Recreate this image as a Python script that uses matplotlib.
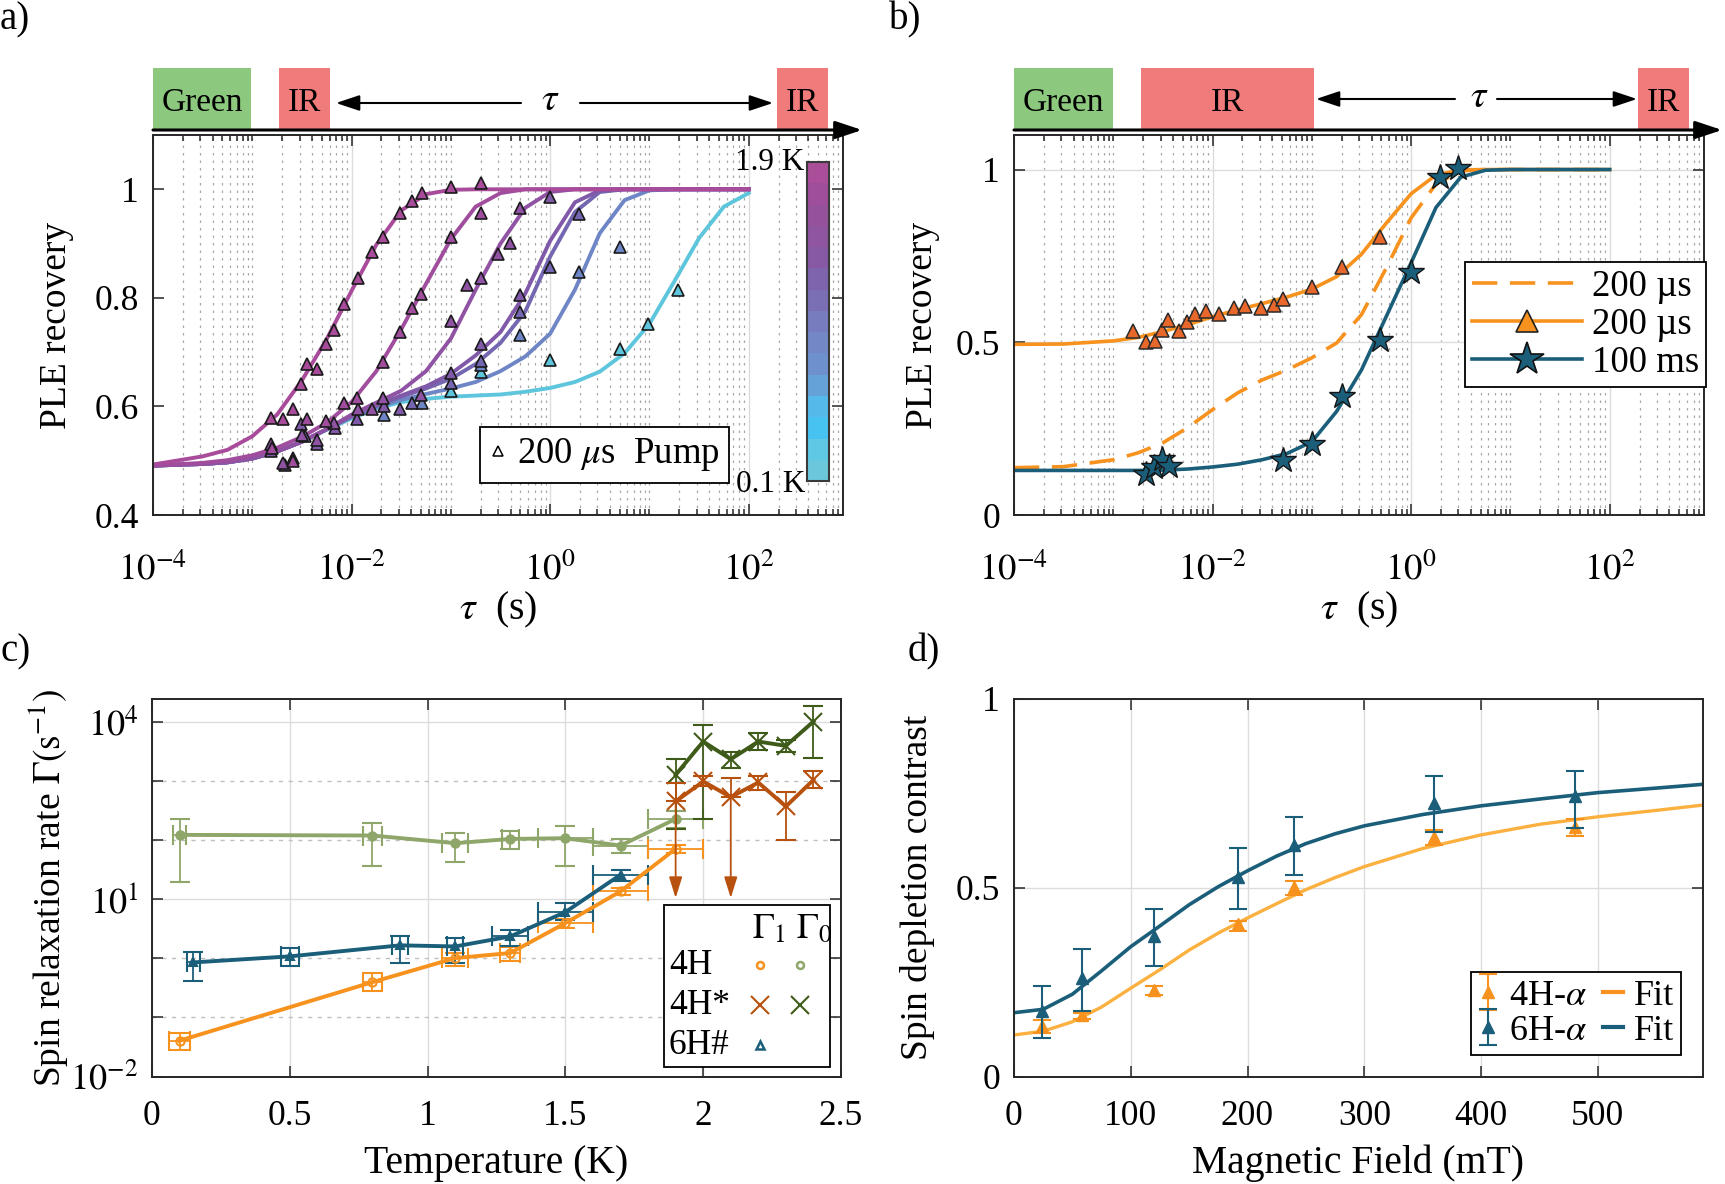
import numpy as np
import matplotlib
matplotlib.use('Agg')
import matplotlib.pyplot as plt
from matplotlib import font_manager as fm
from matplotlib.patches import Rectangle
from matplotlib.lines import Line2D
from matplotlib.colors import ListedColormap
from matplotlib.ticker import LogLocator, NullFormatter, FixedLocator

_avail = {f.name for f in fm.fontManager.ttflist}
SERIF = next((n for n in ['Liberation Serif', 'Times New Roman', 'Nimbus Roman', 'TeX Gyre Termes',
                          'DejaVu Serif'] if n in _avail), 'DejaVu Serif')
plt.rcParams['font.family'] = 'serif'
plt.rcParams['font.serif'] = [SERIF, 'DejaVu Serif']
plt.rcParams['mathtext.fontset'] = 'stix'

# ======================= DATA: panel a =======================
a_fit_logtau = [-4.0, -3.5, -3.25, -3.0, -2.75, -2.5, -2.25, -2.0, -1.75, -1.5, -1.25, -1.0,
                -0.75, -0.5, -0.25, 0.0, 0.25, 0.5, 0.75, 1.0, 1.25, 1.5, 1.75, 2.0]
a_fit_c1 = [0.493, 0.508, 0.520, 0.545, 0.585, 0.648, 0.724, 0.813, 0.898, 0.961, 0.991, 0.999,
            1.0, 1.0, 1.0, 1.0, 1.0, 1.0, 1.0, 1.0, 1.0, 1.0, 1.0, 1.0]
a_fit_c2 = [0.491, 0.496, 0.501, 0.510, 0.524, 0.544, 0.570, 0.608, 0.665, 0.742, 0.826, 0.908,
            0.968, 0.993, 1.0, 1.0, 1.0, 1.0, 1.0, 1.0, 1.0, 1.0, 1.0, 1.0]
a_fit_c3 = [0.491, 0.494, 0.497, 0.504, 0.517, 0.535, 0.558, 0.585, 0.607, 0.629, 0.665, 0.725,
            0.815, 0.900, 0.966, 0.995, 1.0, 1.0, 1.0, 1.0, 1.0, 1.0, 1.0, 1.0]
a_fit_c4 = [0.491, 0.494, 0.497, 0.504, 0.517, 0.535, 0.558, 0.583, 0.603, 0.620, 0.637, 0.660,
            0.694, 0.737, 0.808, 0.905, 0.976, 0.998, 1.0, 1.0, 1.0, 1.0, 1.0, 1.0]
a_fit_c5 = [0.491, 0.494, 0.497, 0.504, 0.517, 0.535, 0.558, 0.582, 0.601, 0.618, 0.633, 0.651,
            0.678, 0.717, 0.775, 0.876, 0.958, 0.995, 1.0, 1.0, 1.0, 1.0, 1.0, 1.0]
a_fit_c6 = [0.491, 0.494, 0.497, 0.504, 0.517, 0.535, 0.558, 0.580, 0.598, 0.612, 0.623, 0.633,
            0.645, 0.665, 0.692, 0.734, 0.815, 0.919, 0.980, 0.998, 1.0, 1.0, 1.0, 1.0]
a_fit_c7 = [0.491, 0.494, 0.497, 0.504, 0.517, 0.535, 0.557, 0.578, 0.596, 0.608, 0.614, 0.618,
            0.620, 0.622, 0.627, 0.634, 0.645, 0.664, 0.698, 0.752, 0.830, 0.910, 0.968, 0.993]

a_pts_c1_logtau = [-2.81, -2.69, -2.59, -2.51, -2.45, -2.35, -2.26, -2.18, -2.08, -1.94, -1.79,
                   -1.68, -1.51, -1.39, -1.29, -1.0, -0.70]
a_pts_c1_y = [0.579, 0.576, 0.595, 0.641, 0.678, 0.669, 0.715, 0.741, 0.788, 0.836, 0.885,
              0.912, 0.956, 0.978, 0.993, 1.004, 1.011]
a_pts_c2_logtau = [-2.80, -2.59, -2.45, -2.26, -2.08, -1.95, -1.68, -1.51, -1.39, -1.30, -1.0, -0.70]
a_pts_c2_y = [0.524, 0.500, 0.576, 0.573, 0.607, 0.616, 0.682, 0.738, 0.781, 0.807, 0.912, 0.956]
a_pts_c3_logtau = [-2.81, -2.69, -2.50, -2.35, -2.18, -1.94, -1.79, -1.68, -1.30, -1.0, -0.84,
                   -0.70, -0.53, -0.40, -0.30]
a_pts_c3_y = [0.530, 0.496, 0.548, 0.539, 0.570, 0.595, 0.595, 0.616, 0.621, 0.757, 0.823,
              0.836, 0.881, 0.901, 0.965]
a_pts_c4_logtau = [-2.81, -2.67, -2.51, -2.345, -2.17, -1.95, -1.67, -1.51, -1.0, -0.70, -0.30, 0.0]
a_pts_c4_y = [0.518, 0.492, 0.567, 0.530, 0.561, 0.576, 0.601, 0.595, 0.661, 0.715, 0.805, 0.985]
a_pts_c5_logtau = [-2.59, -2.47, -1.39, -1.0, -0.70, -0.30, 0.0, 0.29]
a_pts_c5_y = [0.505, 0.545, 0.607, 0.644, 0.684, 0.774, 0.857, 0.954]
a_pts_c6_logtau = [-1.67, -1.295, -0.70, -0.30, 0.29, 0.70]
a_pts_c6_y = [0.585, 0.607, 0.676, 0.731, 0.848, 0.894]
a_pts_c7_logtau = [-1.0, -0.70, 0.0, 0.70, 0.99, 1.29]
a_pts_c7_y = [0.629, 0.663, 0.686, 0.706, 0.751, 0.814]

a_colors = ['#A94B9B', '#A04D9E', '#9052A3', '#8159A9', '#7566B1', '#6E86C5', '#5EC6DC']
a_cbar_colors = ['#6BC8DC', '#5FC8E4', '#46C3F0', '#55BAEA', '#64A2D8', '#6E91CD', '#7387C6',
                 '#767CBE', '#7A6FB4', '#7D64AC', '#8759A5', '#8F55A0', '#96519C', '#9E4E9B', '#AA4E9A']
a_cbar_labels = ['1.9 K', '0.1 K']

# ======================= DATA: panel b =======================
b_fit_logtau = [-4.0, -3.5, -3.0, -2.75, -2.5, -2.25, -2.0, -1.75, -1.5, -1.25, -1.0, -0.75,
                -0.5, -0.25, 0.0, 0.25, 0.5, 0.75, 1.0, 1.5, 2.0]
b_fit_dashed = [0.137, 0.140, 0.160, 0.180, 0.209, 0.253, 0.305, 0.353, 0.391, 0.420, 0.455, 0.498,
                0.580, 0.715, 0.860, 0.958, 0.996, 1.0, 1.0, 1.0, 1.0]
b_fit_orange = [0.494, 0.495, 0.504, 0.514, 0.531, 0.551, 0.574, 0.594, 0.612, 0.631, 0.654, 0.690,
                0.755, 0.845, 0.930, 0.984, 0.999, 1.0, 1.0, 1.0, 1.0]
b_fit_teal = [0.129, 0.129, 0.129, 0.129, 0.130, 0.133, 0.139, 0.147, 0.160, 0.178, 0.212, 0.300,
              0.420, 0.575, 0.730, 0.890, 0.978, 0.998, 1.0, 1.0, 1.0]
b_tri_logtau = [-2.80, -2.67, -2.58, -2.51, -2.45, -2.34, -2.26, -2.18, -2.07, -1.94, -1.78, -1.67,
                -1.51, -1.38, -1.29, -1.0, -0.70, -0.31]
b_tri_y = [0.532, 0.501, 0.505, 0.536, 0.564, 0.532, 0.559, 0.583, 0.590, 0.583, 0.598, 0.604,
           0.598, 0.607, 0.624, 0.661, 0.719, 0.806]
b_star_logtau = [-2.67, -2.59, -2.51, -2.44, -1.29, -1.0, -0.70, -0.31, 0.0, 0.29, 0.47]
b_star_y = [0.119, 0.139, 0.161, 0.142, 0.158, 0.205, 0.345, 0.507, 0.704, 0.978, 1.005]
b_labels = ['200 µs', '200 µs', '100 ms']

# ======================= DATA: panel c =======================
c_T_4h = [0.1, 0.8, 1.1, 1.3, 1.5, 1.7, 1.9]
c_g1_4h = [0.0404, 0.396, 1.01, 1.23, 3.95, 13.6, 71.6]
c_g1_4h_lo = [0.0284, 0.276, 0.731, 0.891, 3.25, 12.0, 60.3]
c_g1_4h_hi = [0.0545, 0.564, 1.23, 1.58, 4.62, 15.5, 83.2]
c_g1_4h_xerr = [0.037, 0.034, 0.048, 0.036, 0.1, 0.1, 0.1]
c_g0_4h = [123, 120, 89, 105, 108, 81, 229]
c_g0_4h_lo = [19.5, 37.2, 42.7, 71.6, 37.2, 60.3, 158]
c_g0_4h_hi = [228, 195, 132, 141, 174, 105, 316]
c_g0_4h_xerr = [0.023, 0.034, 0.048, 0.03, 0.1, 0.1, 0.1]

c_T_6h = [0.15, 0.5, 0.9, 1.1, 1.3, 1.5, 1.7]
c_g1_6h = [0.853, 1.08, 1.66, 1.59, 2.35, 6.07, 26.0]
c_g1_6h_lo = [0.407, 0.731, 0.832, 0.832, 1.59, 4.50, 20.0]
c_g1_6h_hi = [1.28, 1.48, 2.42, 2.20, 3.05, 8.61, 31.6]
c_g1_6h_xerr = [0.024, 0.033, 0.03, 0.03, 0.066, 0.1, 0.1]

c_T_4hs = [1.9, 2.0, 2.1, 2.2, 2.3, 2.4]
c_g1_4hs = [453, 986, 537, 948, 372, 1047]
c_g1_4hs_lo = [10.5, 813, 10.5, 708, 99, 776]
c_g1_4hs_hi = [925, 1202, 1122, 1202, 646, 1479]
c_g1_4hs_upper_limit = [True, False, True, False, False, False]
c_g0_4hs = [1279, 4677, 2344, 4677, 3954, 10210]
c_g0_4hs_lo = [155, 229, 1698, 3388, 3162, 2455]
c_g0_4hs_hi = [2399, 8913, 3162, 6457, 5012, 18621]
c_legend_rows = ['4H', '4H*', '6H#']

# ======================= DATA: panel d =======================
d_B = [24, 58, 120, 192, 240, 360, 480]
d_4h = [0.134, 0.163, 0.229, 0.403, 0.503, 0.635, 0.662]
d_4h_lo = [0.114, 0.151, 0.216, 0.386, 0.482, 0.613, 0.638]
d_4h_hi = [0.150, 0.169, 0.241, 0.413, 0.519, 0.653, 0.681]
d_6h = [0.174, 0.260, 0.372, 0.529, 0.613, 0.725, 0.743]
d_6h_lo = [0.101, 0.174, 0.293, 0.445, 0.534, 0.647, 0.659]
d_6h_hi = [0.240, 0.339, 0.445, 0.604, 0.687, 0.796, 0.809]
d_fit_B = [0, 25, 50, 75, 100, 125, 150, 175, 200, 225, 250, 275, 300, 350, 400, 450, 500, 550, 590]
d_fit_4h = [0.110, 0.120, 0.145, 0.184, 0.234, 0.283, 0.335, 0.380, 0.420, 0.458, 0.495, 0.527,
            0.556, 0.604, 0.640, 0.668, 0.688, 0.705, 0.719]
d_fit_6h = [0.169, 0.178, 0.218, 0.280, 0.344, 0.399, 0.455, 0.503, 0.545, 0.584, 0.617, 0.643,
            0.664, 0.694, 0.717, 0.735, 0.752, 0.764, 0.774]

# ======================= STYLE =======================
ORANGE = '#F7921E'
ORANGE_LIGHT = '#FBB040'
ORANGE_DARK = '#B8500E'
ORANGE_TRI = '#E8672A'
TEAL = '#1B5E7A'
GREEN_L = '#8FA66A'
GREEN_D = '#3F5B1A'
SPINE = '#262626'
TICK = 25.5
XLAB = 28.5
YLAB = 27
LEG = 26.5

W, H = 1725, 1184
fig = plt.figure(figsize=(W / 100, H / 100), dpi=100)


def px_rect(l, t, r, b):
    return [l / W, 1 - b / H, (r - l) / W, (b - t) / H]


def style_axes(ax):
    for s in ax.spines.values():
        s.set_linewidth(1.4)
        s.set_color(SPINE)
    ax.tick_params(which='both', direction='in', top=True, right=True, color=SPINE,
                   labelcolor='black', labelsize=TICK, width=1.1)
    ax.tick_params(which='major', length=8)
    ax.tick_params(which='minor', length=4)
    ax.set_axisbelow(True)


def log_x(ax):
    ax.set_xscale('log')
    ax.set_xlim(1e-4, 10 ** 2.95)
    ax.set_xticks([1e-4, 1e-2, 1, 1e2])
    ax.set_xticklabels([r'$10^{-4}$', r'$10^{-2}$', r'$10^{0}$', r'$10^{2}$'])
    ax.xaxis.set_minor_locator(LogLocator(base=10, subs=np.arange(1, 10), numticks=60))
    ax.xaxis.set_minor_formatter(NullFormatter())
    ax.grid(True, which='major', axis='x', color='#DCDCDC', lw=1.0)
    ax.grid(True, which='minor', axis='x', color='#A8A8A8', lw=0.9, ls=(0, (2, 4)))
    ax.tick_params(axis='x', which='major', pad=27, labelsize=26.5)
    ax.tick_params(axis='y', pad=10)


# ======================= PANEL A =======================
axa = fig.add_axes(px_rect(153, 135, 843, 515))
style_axes(axa)
log_x(axa)
axa.set_ylim(0.4, 1.1)
axa.set_yticks([0.4, 0.6, 0.8, 1.0])
axa.set_yticklabels(['0.4', '0.6', '0.8', '1'])

a_curves = [a_fit_c1, a_fit_c2, a_fit_c3, a_fit_c4, a_fit_c5, a_fit_c6, a_fit_c7]
a_pts = [(a_pts_c1_logtau, a_pts_c1_y), (a_pts_c2_logtau, a_pts_c2_y), (a_pts_c3_logtau, a_pts_c3_y),
         (a_pts_c4_logtau, a_pts_c4_y), (a_pts_c5_logtau, a_pts_c5_y), (a_pts_c6_logtau, a_pts_c6_y),
         (a_pts_c7_logtau, a_pts_c7_y)]
tau_a = 10 ** np.array(a_fit_logtau)
for i in range(len(a_curves) - 1, -1, -1):
    axa.plot(tau_a, a_curves[i], color=a_colors[i], lw=2.8, solid_joinstyle='round', zorder=2 + 0.01 * (7 - i))
for i in range(len(a_pts) - 1, -1, -1):
    lt, yv = a_pts[i]
    axa.plot(10 ** np.array(lt), yv, ls='none', marker='^', ms=8.5, mfc=a_colors[i], mec='#1a1a1a',
             mew=1.2, zorder=3)

ha = Line2D([], [], ls='none', marker='^', ms=7, mfc='none', mec='black', mew=1.1)
lega = axa.legend([ha], [r'200 $\mu$s  Pump'], loc='center', bbox_to_anchor=(0.654, 0.158),
                  fontsize=LEG, frameon=True, fancybox=False, edgecolor='black', framealpha=1,
                  handlelength=0.5, handletextpad=0.25, borderpad=0.25)
lega.get_frame().set_linewidth(1.3)
axa.set_xlabel(r'$\tau$  (s)', fontsize=XLAB)
axa.xaxis.set_label_coords(0.5, -0.197)
axa.set_ylabel('PLE recovery', fontsize=YLAB)
axa.yaxis.set_label_coords(-0.1145, 0.5)

axcb = fig.add_axes(px_rect(807, 162, 829, 481))
axcb.imshow(np.arange(len(a_cbar_colors)).reshape(-1, 1), cmap=ListedColormap(a_cbar_colors),
            aspect='auto', origin='lower', interpolation='nearest')
axcb.set_xticks([])
axcb.set_yticks([])
for s in axcb.spines.values():
    s.set_linewidth(1.5)
    s.set_color('#3a3a3a')

# ======================= PANEL B =======================
axb = fig.add_axes(px_rect(1014, 135, 1704, 515))
style_axes(axb)
log_x(axb)
axb.set_ylim(0, 1.1)
axb.set_yticks([0, 0.5, 1.0])
axb.set_yticklabels(['0', '0.5', '1'])
axb.grid(True, which='major', axis='y', color='#DCDCDC', lw=1.0)
tau_b = 10 ** np.array(b_fit_logtau)
axb.plot(tau_b, b_fit_dashed, color=ORANGE, lw=2.6, ls=(0, (7, 3.5)), zorder=2)
axb.plot(tau_b, b_fit_orange, color=ORANGE, lw=2.6, zorder=2)
axb.plot(tau_b, b_fit_teal, color=TEAL, lw=2.6, zorder=2.1)
axb.plot(10 ** np.array(b_tri_logtau), b_tri_y, ls='none', marker='^', ms=9.5, mfc=ORANGE_TRI,
         mec='#2a2a2a', mew=1.1, zorder=3)
axb.plot(10 ** np.array(b_star_logtau), b_star_y, ls='none', marker='*', ms=19, mfc=TEAL,
         mec='#151515', mew=1.0, zorder=3)
hb1 = Line2D([], [], color=ORANGE, lw=2.6, ls=(0, (7, 3.5)))
hb2 = Line2D([], [], color=ORANGE, lw=2.6, marker='^', ms=16, mfc=ORANGE, mec='#222222', mew=1.2)
hb3 = Line2D([], [], color=TEAL, lw=2.6, marker='*', ms=25, mfc=TEAL, mec='#111111', mew=1.2)
legb = axb.legend([hb1, hb2, hb3], b_labels, loc='center', bbox_to_anchor=(0.828, 0.501),
                  fontsize=LEG, frameon=True, fancybox=False, edgecolor='black', framealpha=1,
                  handlelength=3.0, handletextpad=0.25, borderpad=0.2, labelspacing=0.1,
                  numpoints=1)
legb.get_frame().set_linewidth(1.3)
axb.set_xlabel(r'$\tau$  (s)', fontsize=XLAB)
axb.xaxis.set_label_coords(0.5, -0.197)
axb.set_ylabel('PLE recovery', fontsize=YLAB)
axb.yaxis.set_label_coords(-0.107, 0.5)

# ======================= PANEL C =======================
axc = fig.add_axes(px_rect(152, 699, 841, 1076.5))
style_axes(axc)
axc.set_yscale('log')
axc.set_xlim(0, 2.5)
axc.set_ylim(1e-2, 10 ** 4.39)
axc.set_xticks([0, 0.5, 1, 1.5, 2, 2.5])
axc.set_xticklabels(['0', '0.5', '1', '1.5', '2', '2.5'])
axc.set_yticks([1e-2, 1e1, 1e4])
axc.set_yticklabels([r'$10^{-2}$', r'$10^{1}$', r'$10^{4}$'])
axc.yaxis.set_minor_locator(FixedLocator([1e-1, 1, 1e2, 1e3]))
axc.yaxis.set_minor_formatter(NullFormatter())
axc.tick_params(which='minor', length=8)
axc.tick_params(axis='x', pad=17)
axc.tick_params(axis='y', pad=10, labelsize=26)
axc.grid(True, which='major', color='#DCDCDC', lw=1.0)
axc.grid(True, which='minor', axis='y', color='#C0C0C0', lw=1.0, ls=(0, (3, 4)))


def eb(ax, x, y, lo, hi, xe, color, marker, ms, mfc, lw=2.8, z=3, capsize=7):
    y = np.asarray(y, float)
    lo = np.asarray(lo, float)
    hi = np.asarray(hi, float)
    return ax.errorbar(x, y, yerr=[y - lo, hi - y], xerr=xe, color=color, marker=marker, ms=ms,
                       mfc=mfc, mec=color, mew=1.5, lw=lw, elinewidth=1.3, capsize=capsize,
                       capthick=1.3, zorder=z)


eb(axc, c_T_4h, c_g0_4h, c_g0_4h_lo, c_g0_4h_hi, c_g0_4h_xerr, GREEN_L, 'o', 6, GREEN_L, z=3)
eb(axc, c_T_6h, c_g1_6h, c_g1_6h_lo, c_g1_6h_hi, c_g1_6h_xerr, TEAL, '^', 6, TEAL, z=3.2)
eb(axc, c_T_4h, c_g1_4h, c_g1_4h_lo, c_g1_4h_hi, c_g1_4h_xerr, ORANGE, 'o', 6, 'none', z=3.1)
eb(axc, c_T_4hs, c_g0_4hs, c_g0_4hs_lo, c_g0_4hs_hi, None, GREEN_D, 'x', 13, GREEN_D, z=3.3)
g1s = np.asarray(c_g1_4hs, float)
g1s_lo_eb = np.where(c_g1_4hs_upper_limit, g1s, c_g1_4hs_lo)
eb(axc, c_T_4hs, c_g1_4hs, g1s_lo_eb, c_g1_4hs_hi, None, ORANGE_DARK, 'x', 13, ORANGE_DARK, z=3.4)
for T, g, lo, flag in zip(c_T_4hs, c_g1_4hs, c_g1_4hs_lo, c_g1_4hs_upper_limit):
    if flag:
        axc.annotate('', xy=(T, lo), xytext=(T, g),
                     arrowprops=dict(arrowstyle='-|>,head_length=0.8,head_width=0.25',
                                     color=ORANGE_DARK, lw=1.3, shrinkA=0, shrinkB=0,
                                     mutation_scale=16), zorder=3.4)
axc.set_xlabel('Temperature (K)', fontsize=XLAB)
axc.xaxis.set_label_coords(0.5, -0.181)
axc.set_ylabel(r'Spin relaxation rate $\Gamma(\mathrm{s}^{-1})$', fontsize=YLAB)
axc.yaxis.set_label_coords(-0.117, 0.5)

# ======================= PANEL D =======================
axd = fig.add_axes(px_rect(1014, 699, 1703, 1076.5))
style_axes(axd)
axd.set_xlim(0, 590)
axd.set_ylim(0, 1)
axd.set_xticks([0, 100, 200, 300, 400, 500])
axd.set_yticks([0, 0.5, 1])
axd.set_yticklabels(['0', '0.5', '1'])
axd.tick_params(axis='x', pad=17)
axd.tick_params(axis='y', pad=10)
axd.grid(True, which='major', color='#DCDCDC', lw=1.0)
axd.plot(d_fit_B, d_fit_4h, color=ORANGE_LIGHT, lw=2.4, zorder=2)
axd.plot(d_fit_B, d_fit_6h, color=TEAL, lw=2.6, zorder=2.1)
e4 = axd.errorbar(d_B, d_4h, yerr=[np.array(d_4h) - np.array(d_4h_lo), np.array(d_4h_hi) - np.array(d_4h)],
                  fmt='^', color=ORANGE, ms=9, mec=ORANGE, elinewidth=1.5, capsize=6.5, capthick=1.5,
                  zorder=3)
e6 = axd.errorbar(d_B, d_6h, yerr=[np.array(d_6h) - np.array(d_6h_lo), np.array(d_6h_hi) - np.array(d_6h)],
                  fmt='^', color=TEAL, ms=9, mec=TEAL, elinewidth=1.5, capsize=6.5, capthick=1.5,
                  zorder=3.1)
hf4 = Line2D([], [], color=ORANGE, lw=3)
hf6 = Line2D([], [], color=TEAL, lw=3)
legd = axd.legend([e4, e6, hf4, hf6], [r'4H-$\alpha$', r'6H-$\alpha$', 'Fit', 'Fit'], ncol=2,
                  loc='center', bbox_to_anchor=(0.816, 0.167), fontsize=26, frameon=True,
                  fancybox=False, edgecolor='black', framealpha=1, handlelength=0.55,
                  handletextpad=0.3, columnspacing=0.45, borderpad=0.2, labelspacing=0.05)
legd.get_frame().set_linewidth(1.3)
axd.set_xlabel('Magnetic Field (mT)', fontsize=XLAB)
axd.xaxis.set_label_coords(0.5, -0.181)
axd.set_ylabel('Spin depletion contrast', fontsize=YLAB)
axd.yaxis.set_label_coords(-0.115, 0.5)

# ======================= OVERLAY (pulse sequences, labels, custom legend) =======================
ov = fig.add_axes([0, 0, 1, 1])
ov.set_xlim(0, W)
ov.set_ylim(H, 0)
ov.axis('off')
ov.set_zorder(10)

GREEN_BOX = '#8CC97E'
IR_BOX = '#F07B7B'


def pulses(items, x0, x1, la, ra, tx):
    for name, l, r, col in items:
        ov.add_patch(Rectangle((l, 68), r - l, 62, facecolor=col, edgecolor='none'))
        ov.text((l + r) / 2, 111, name, ha='center', va='baseline', fontsize=24)
    ov.annotate('', xy=(x1, 130), xytext=(x0, 130),
                arrowprops=dict(arrowstyle='-|>,head_length=0.9,head_width=0.3', lw=2.2,
                                color='black', shrinkA=0, shrinkB=0, mutation_scale=18))
    ov.annotate('', xy=(la[1], la[2]), xytext=(la[0], la[2]),
                arrowprops=dict(arrowstyle='-|>,head_length=0.9,head_width=0.3', lw=1.5,
                                color='black', shrinkA=0, shrinkB=0, mutation_scale=16))
    ov.annotate('', xy=(ra[1], ra[2]), xytext=(ra[0], ra[2]),
                arrowprops=dict(arrowstyle='-|>,head_length=0.9,head_width=0.3', lw=1.5,
                                color='black', shrinkA=0, shrinkB=0, mutation_scale=16))
    ov.text(tx[0], tx[1], r'$\tau$', ha='center', va='baseline', fontsize=28)


pulses([('Green', 153, 251, GREEN_BOX), ('IR', 279, 330, IR_BOX), ('IR', 777, 828, IR_BOX)],
       153, 862, (521, 336, 103), (580, 773, 103), (550, 110))
pulses([('Green', 1014, 1113, GREEN_BOX), ('IR', 1141, 1314, IR_BOX), ('IR', 1638, 1689, IR_BOX)],
       1014, 1722, (1455, 1316, 99), (1497, 1637, 99), (1479, 107))

ov.text(804, 162, a_cbar_labels[0], ha='right', va='center', fontsize=22.5)
ov.text(805, 485, a_cbar_labels[1], ha='right', va='center', fontsize=22.5)

for lab, x, y in [('a)', 0, 20), ('b)', 889, 20), ('c)', 0, 652), ('d)', 908, 652)]:
    ov.text(x, y, lab, ha='left', va='center', fontsize=28)

# custom legend for panel c
ov.add_patch(Rectangle((664, 905), 166, 162, facecolor='white', edgecolor='black', lw=1.3))
ov.text(792, 930, r'$\Gamma_1\ \Gamma_0$', ha='center', va='center', fontsize=26)
rows_y = [965, 1005, 1045]
for lab, y in zip(c_legend_rows, rows_y):
    ov.text(669, y, lab, ha='left', va='center', fontsize=25.5)
ov.plot([760], [rows_y[0]], marker='o', ms=5, mfc='none', mec=ORANGE, mew=1.8)
ov.plot([800], [rows_y[0]], marker='o', ms=5, mfc='none', mec=GREEN_L, mew=1.8)
ov.plot([760], [rows_y[1]], marker='x', ms=13, mec=ORANGE_DARK, mew=1.5)
ov.plot([800], [rows_y[1]], marker='x', ms=13, mec=GREEN_D, mew=1.5)
ov.plot([760], [rows_y[2]], marker='^', ms=6, mfc='none', mec=TEAL, mew=1.8)

fig.savefig('out.png', dpi=100)
